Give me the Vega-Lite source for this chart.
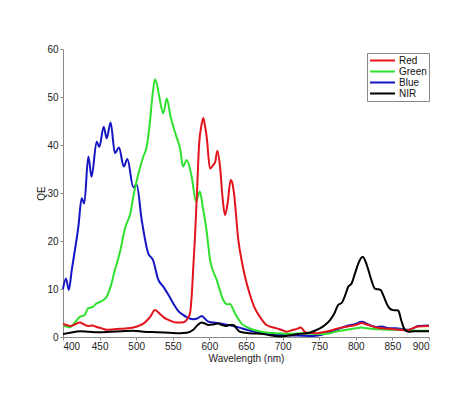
{
  "$schema": "https://vega.github.io/schema/vega-lite/v6.json",
  "width": 366,
  "height": 288,
  "autosize": {"type": "none"},
  "padding": {"left": 63, "top": 49, "right": 45, "bottom": 58},
  "background": "white",
  "config": {
    "view": {"stroke": null},
    "font": "Liberation Sans",
    "axis": {"grid": false, "domainColor": "#8a8a8a", "tickColor": "#8a8a8a", "labelColor": "#222", "labelFontSize": 10, "titleFontSize": 10, "titleFontWeight": "normal", "titleColor": "#222"}
  },
  "datasets": {
    "curves": [
      {"band":"Blue","wl":400,"qe":10},{"band":"Blue","wl":404,"qe":12.2},{"band":"Blue","wl":408,"qe":9.8},{"band":"Blue","wl":412,"qe":14},{"band":"Blue","wl":417,"qe":18.8},{"band":"Blue","wl":421,"qe":23},{"band":"Blue","wl":425.5,"qe":28.9},{"band":"Blue","wl":429,"qe":27.8},{"band":"Blue","wl":434.6,"qe":37.6},{"band":"Blue","wl":439,"qe":33.4},{"band":"Blue","wl":446,"qe":40.7},{"band":"Blue","wl":449.6,"qe":39.6},{"band":"Blue","wl":455.6,"qe":43.8},{"band":"Blue","wl":459.7,"qe":41.4},{"band":"Blue","wl":465,"qe":44.7},{"band":"Blue","wl":471,"qe":38.3},{"band":"Blue","wl":476.5,"qe":39.5},{"band":"Blue","wl":483,"qe":35.5},{"band":"Blue","wl":488,"qe":37.1},{"band":"Blue","wl":496,"qe":31.2},{"band":"Blue","wl":500.7,"qe":31.7},{"band":"Blue","wl":507.5,"qe":24.4},{"band":"Blue","wl":516.5,"qe":17.4},{"band":"Blue","wl":523,"qe":16},{"band":"Blue","wl":530,"qe":12},{"band":"Blue","wl":537,"qe":10.5},{"band":"Blue","wl":544,"qe":8.8},{"band":"Blue","wl":550.7,"qe":7},{"band":"Blue","wl":557,"qe":5.5},{"band":"Blue","wl":564,"qe":4.6},{"band":"Blue","wl":571,"qe":4},{"band":"Blue","wl":578,"qe":3.7},{"band":"Blue","wl":584,"qe":3.9},{"band":"Blue","wl":589.5,"qe":4.4},{"band":"Blue","wl":594,"qe":3.8},{"band":"Blue","wl":598.5,"qe":3.2},{"band":"Blue","wl":606,"qe":3},{"band":"Blue","wl":614.5,"qe":2.8},{"band":"Blue","wl":622,"qe":2.6},{"band":"Blue","wl":632.7,"qe":2.3},{"band":"Blue","wl":640,"qe":2},{"band":"Blue","wl":651,"qe":1.5},{"band":"Blue","wl":665,"qe":1},{"band":"Blue","wl":680,"qe":0.7},{"band":"Blue","wl":696.5,"qe":0.4},{"band":"Blue","wl":720,"qe":0.3},{"band":"Blue","wl":742,"qe":0.2},{"band":"Blue","wl":755,"qe":0.5},{"band":"Blue","wl":765,"qe":1.1},{"band":"Blue","wl":775,"qe":1.6},{"band":"Blue","wl":787.5,"qe":2.3},{"band":"Blue","wl":800,"qe":2.7},{"band":"Blue","wl":808,"qe":3.2},{"band":"Blue","wl":815,"qe":2.8},{"band":"Blue","wl":822,"qe":2.3},{"band":"Blue","wl":828.5,"qe":2.1},{"band":"Blue","wl":835,"qe":2.2},{"band":"Blue","wl":846.7,"qe":1.8},{"band":"Blue","wl":855,"qe":1.8},{"band":"Blue","wl":869.5,"qe":1.5},{"band":"Blue","wl":877,"qe":1.7},{"band":"Blue","wl":885,"qe":2.3},{"band":"Blue","wl":900,"qe":2.4},

      {"band":"Green","wl":400,"qe":2.5},{"band":"Green","wl":405,"qe":2.2},{"band":"Green","wl":409.6,"qe":2},{"band":"Green","wl":416,"qe":3},{"band":"Green","wl":423,"qe":4.2},{"band":"Green","wl":429,"qe":4.5},{"band":"Green","wl":434.6,"qe":6},{"band":"Green","wl":440,"qe":6.2},{"band":"Green","wl":446,"qe":7},{"band":"Green","wl":453,"qe":7.5},{"band":"Green","wl":459.7,"qe":8.4},{"band":"Green","wl":465,"qe":10.5},{"band":"Green","wl":471,"qe":14},{"band":"Green","wl":478,"qe":17.8},{"band":"Green","wl":484.7,"qe":22.6},{"band":"Green","wl":487,"qe":23.7},{"band":"Green","wl":491.5,"qe":25.4},{"band":"Green","wl":497,"qe":30},{"band":"Green","wl":503,"qe":34},{"band":"Green","wl":509.7,"qe":37.6},{"band":"Green","wl":514.3,"qe":39.6},{"band":"Green","wl":519,"qe":45.2},{"band":"Green","wl":522,"qe":50},{"band":"Green","wl":525.7,"qe":53.7},{"band":"Green","wl":528.5,"qe":52.5},{"band":"Green","wl":531.6,"qe":50},{"band":"Green","wl":537,"qe":46.6},{"band":"Green","wl":541.7,"qe":49.7},{"band":"Green","wl":547,"qe":45.9},{"band":"Green","wl":555,"qe":41.7},{"band":"Green","wl":560,"qe":39.2},{"band":"Green","wl":564,"qe":35.5},{"band":"Green","wl":569,"qe":36.9},{"band":"Green","wl":575.8,"qe":33.4},{"band":"Green","wl":581.7,"qe":28.2},{"band":"Green","wl":587,"qe":30.3},{"band":"Green","wl":591,"qe":27},{"band":"Green","wl":596,"qe":22.3},{"band":"Green","wl":601,"qe":16},{"band":"Green","wl":610,"qe":11.9},{"band":"Green","wl":619,"qe":7.7},{"band":"Green","wl":624,"qe":6.8},{"band":"Green","wl":628,"qe":6.9},{"band":"Green","wl":635,"qe":4.9},{"band":"Green","wl":644,"qe":2.8},{"band":"Green","wl":652,"qe":2},{"band":"Green","wl":660,"qe":1.5},{"band":"Green","wl":675,"qe":1},{"band":"Green","wl":690,"qe":0.8},{"band":"Green","wl":710,"qe":0.7},{"band":"Green","wl":730,"qe":0.8},{"band":"Green","wl":750,"qe":0.6},{"band":"Green","wl":765,"qe":0.8},{"band":"Green","wl":775,"qe":1.2},{"band":"Green","wl":787.5,"qe":1.5},{"band":"Green","wl":800,"qe":1.8},{"band":"Green","wl":808,"qe":2},{"band":"Green","wl":815,"qe":1.8},{"band":"Green","wl":832,"qe":1.6},{"band":"Green","wl":850,"qe":1.5},{"band":"Green","wl":866,"qe":1.5},{"band":"Green","wl":880,"qe":1.3},{"band":"Green","wl":900,"qe":1.3},

      {"band":"Red","wl":400,"qe":2.7},{"band":"Red","wl":405,"qe":2.5},{"band":"Red","wl":410,"qe":2.3},{"band":"Red","wl":416,"qe":2.6},{"band":"Red","wl":423,"qe":3},{"band":"Red","wl":429,"qe":2.6},{"band":"Red","wl":434.6,"qe":2.3},{"band":"Red","wl":440,"qe":2.4},{"band":"Red","wl":446,"qe":2.1},{"band":"Red","wl":453,"qe":1.8},{"band":"Red","wl":459.7,"qe":1.5},{"band":"Red","wl":470,"qe":1.6},{"band":"Red","wl":478,"qe":1.7},{"band":"Red","wl":488,"qe":1.8},{"band":"Red","wl":496,"qe":2},{"band":"Red","wl":503,"qe":2.3},{"band":"Red","wl":509.7,"qe":2.8},{"band":"Red","wl":515,"qe":3.5},{"band":"Red","wl":519,"qe":4.2},{"band":"Red","wl":525.7,"qe":5.6},{"band":"Red","wl":532.5,"qe":4.8},{"band":"Red","wl":537,"qe":4.2},{"band":"Red","wl":541.7,"qe":3.7},{"band":"Red","wl":548,"qe":3.3},{"band":"Red","wl":555,"qe":3},{"band":"Red","wl":562,"qe":3},{"band":"Red","wl":566.7,"qe":3.2},{"band":"Red","wl":570,"qe":3.8},{"band":"Red","wl":573.5,"qe":4.9},{"band":"Red","wl":576,"qe":9},{"band":"Red","wl":578,"qe":14.6},{"band":"Red","wl":580,"qe":20},{"band":"Red","wl":582.6,"qe":28.5},{"band":"Red","wl":586,"qe":40.3},{"band":"Red","wl":589,"qe":44},{"band":"Red","wl":591.7,"qe":45.6},{"band":"Red","wl":594,"qe":44},{"band":"Red","wl":596.3,"qe":41.7},{"band":"Red","wl":600.8,"qe":35.1},{"band":"Red","wl":605,"qe":35.8},{"band":"Red","wl":608,"qe":36.5},{"band":"Red","wl":610.8,"qe":38.8},{"band":"Red","wl":614.5,"qe":35.5},{"band":"Red","wl":618,"qe":29},{"band":"Red","wl":621.3,"qe":25.4},{"band":"Red","wl":625,"qe":28},{"band":"Red","wl":629,"qe":32.7},{"band":"Red","wl":631.5,"qe":32},{"band":"Red","wl":633.6,"qe":29.9},{"band":"Red","wl":639.5,"qe":20.2},{"band":"Red","wl":644,"qe":16},{"band":"Red","wl":648.6,"qe":12.6},{"band":"Red","wl":655.5,"qe":8.75},{"band":"Red","wl":662,"qe":6},{"band":"Red","wl":669,"qe":4.2},{"band":"Red","wl":678,"qe":2.5},{"band":"Red","wl":692,"qe":1.8},{"band":"Red","wl":700,"qe":1.4},{"band":"Red","wl":705.6,"qe":1.1},{"band":"Red","wl":714.6,"qe":1.5},{"band":"Red","wl":720,"qe":1.7},{"band":"Red","wl":724.7,"qe":2},{"band":"Red","wl":729,"qe":1.3},{"band":"Red","wl":733,"qe":0.9},{"band":"Red","wl":746.6,"qe":0.8},{"band":"Red","wl":755,"qe":1},{"band":"Red","wl":764.8,"qe":1.3},{"band":"Red","wl":778.4,"qe":1.9},{"band":"Red","wl":792,"qe":2.3},{"band":"Red","wl":800,"qe":2.5},{"band":"Red","wl":808,"qe":2.9},{"band":"Red","wl":815,"qe":2.6},{"band":"Red","wl":828,"qe":2},{"band":"Red","wl":846,"qe":1.7},{"band":"Red","wl":869,"qe":1.4},{"band":"Red","wl":885,"qe":2.2},{"band":"Red","wl":900,"qe":2.3},

      {"band":"NIR","wl":400,"qe":0.6},{"band":"NIR","wl":410,"qe":0.9},{"band":"NIR","wl":423,"qe":1.2},{"band":"NIR","wl":435,"qe":1.1},{"band":"NIR","wl":448.8,"qe":1},{"band":"NIR","wl":465,"qe":1.1},{"band":"NIR","wl":480,"qe":1.2},{"band":"NIR","wl":496,"qe":1.3},{"band":"NIR","wl":510,"qe":1.1},{"band":"NIR","wl":528,"qe":1},{"band":"NIR","wl":545,"qe":0.9},{"band":"NIR","wl":560,"qe":0.8},{"band":"NIR","wl":569,"qe":0.9},{"band":"NIR","wl":578,"qe":1.5},{"band":"NIR","wl":584,"qe":2.5},{"band":"NIR","wl":589.5,"qe":3},{"band":"NIR","wl":594,"qe":2.8},{"band":"NIR","wl":598.5,"qe":2.5},{"band":"NIR","wl":605,"qe":2.6},{"band":"NIR","wl":612,"qe":2.8},{"band":"NIR","wl":617,"qe":2.5},{"band":"NIR","wl":623,"qe":2.3},{"band":"NIR","wl":627,"qe":2.5},{"band":"NIR","wl":632.7,"qe":2.5},{"band":"NIR","wl":637,"qe":1.8},{"band":"NIR","wl":641.8,"qe":1.1},{"band":"NIR","wl":655,"qe":0.8},{"band":"NIR","wl":674,"qe":0.6},{"band":"NIR","wl":685,"qe":0.3},{"band":"NIR","wl":696.5,"qe":0.1},{"band":"NIR","wl":705,"qe":0.2},{"band":"NIR","wl":719,"qe":0.55},{"band":"NIR","wl":737,"qe":0.9},{"band":"NIR","wl":744,"qe":1.3},{"band":"NIR","wl":751,"qe":1.8},{"band":"NIR","wl":758,"qe":2.5},{"band":"NIR","wl":764.8,"qe":3.5},{"band":"NIR","wl":771,"qe":5},{"band":"NIR","wl":776,"qe":6.7},{"band":"NIR","wl":780.7,"qe":7.1},{"band":"NIR","wl":785,"qe":8.5},{"band":"NIR","wl":789.8,"qe":10.5},{"band":"NIR","wl":794.4,"qe":11.2},{"band":"NIR","wl":799,"qe":13.3},{"band":"NIR","wl":803.4,"qe":15.3},{"band":"NIR","wl":809.4,"qe":16.7},{"band":"NIR","wl":815,"qe":15},{"band":"NIR","wl":820,"qe":12.5},{"band":"NIR","wl":826,"qe":10.1},{"band":"NIR","wl":833.8,"qe":9.8},{"band":"NIR","wl":838,"qe":8.5},{"band":"NIR","wl":842,"qe":7},{"band":"NIR","wl":846,"qe":6},{"band":"NIR","wl":851,"qe":5.6},{"band":"NIR","wl":858,"qe":5.5},{"band":"NIR","wl":862,"qe":3.5},{"band":"NIR","wl":867,"qe":1.5},{"band":"NIR","wl":872,"qe":1.1},{"band":"NIR","wl":880,"qe":1.2},{"band":"NIR","wl":900,"qe":1.2}
    ]
  },
  "data": {"name": "curves"},
  "mark": {"type": "line", "strokeWidth": 2, "interpolate": "monotone"},
  "encoding": {
    "x": {"field": "wl", "type": "quantitative", "scale": {"domain": [400, 900], "nice": false}, "axis": {"title": "Wavelength (nm)", "values": [400,450,500,550,600,650,700,750,800,850,900], "tickSize": 3, "labelPadding": 1, "titlePadding": 2}},
    "y": {"field": "qe", "type": "quantitative", "scale": {"domain": [0, 60], "nice": false}, "axis": {"title": "QE", "values": [0,10,20,30,40,50,60], "tickSize": 3, "labelPadding": 2, "titlePadding": 0}},
    "color": {"field": "band", "type": "nominal", "scale": {"domain": ["Red", "Green", "Blue", "NIR"], "range": ["#e3141c", "#2fe02f", "#1515c4", "#000000"]}, "legend": {"title": null, "orient": "none", "legendX": 304, "legendY": 4, "symbolType": "stroke", "symbolSize": 625, "symbolStrokeWidth": 2, "clipHeight": 11, "labelFontSize": 10, "labelColor": "#111", "strokeColor": "#888", "fillColor": "white", "padding": 2, "rowPadding": 0, "labelOffset": 3}},
    "order": {"field": "wl", "type": "quantitative"}
  }
}
